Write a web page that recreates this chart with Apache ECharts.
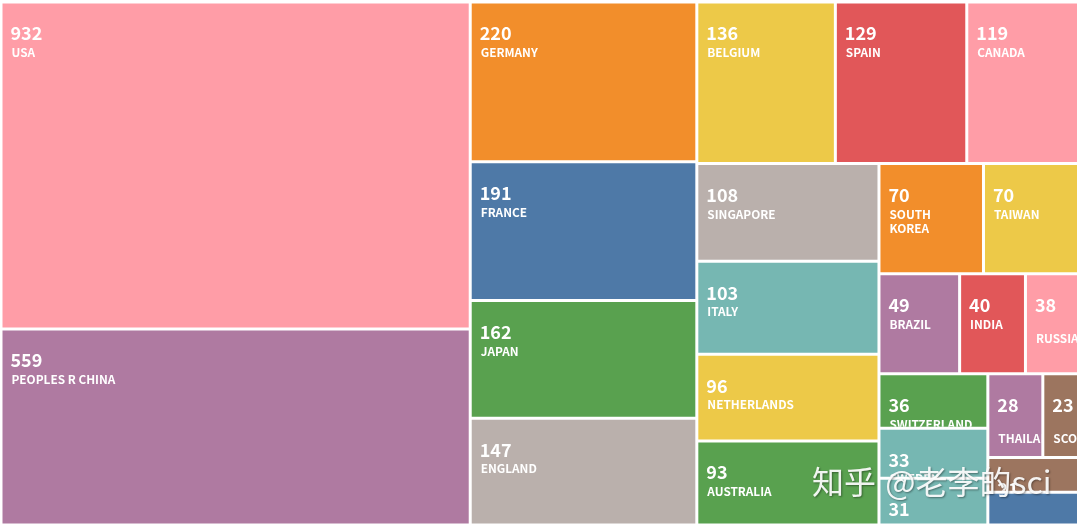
<!DOCTYPE html>
<html>
<head>
<meta charset="utf-8">
<style>
html,body{margin:0;padding:0;background:#fff}
#crop{position:relative;width:1077px;height:524px;overflow:hidden}
#chart{width:1088px;height:527px}
#mark{position:absolute;left:812px;top:456px;font:32px/48px "Noto Sans CJK SC";word-spacing:2px;color:rgba(255,255,255,.92);text-shadow:1px 1px 2px rgba(0,0,0,.4);white-space:pre}
</style>
<script src="https://cdn.jsdelivr.net/npm/echarts@6/dist/echarts.min.js"></script>
</head>
<body>
<div id="crop"><div id="chart"></div></div>
<div id="mark">知乎 @老李的sci</div>
<script>
const names = ['USA','PEOPLES R CHINA','GERMANY','FRANCE','JAPAN','ENGLAND','BELGIUM','SPAIN','CANADA',
  'SINGAPORE','ITALY','NETHERLANDS','AUSTRALIA','SOUTH\nKOREA','TAIWAN','BRAZIL','INDIA','\nRUSSIA',
  'SWITZERLAND','SWEDEN','DENMARK','\nTHAILAND','\nSCOTLAND','WALES','AUSTRIA'];
const counts = [932,559,220,191,162,147,136,129,119,108,103,96,93,70,70,49,40,38,36,33,31,28,23,21,20];
const colors = ['#FF9DA7','#AF7AA1','#F28E2B','#4E79A7','#59A14F','#BAB0AC','#EDC948','#E15759','#FF9DA7',
  '#BAB0AC','#76B7B2','#EDC948','#59A14F','#F28E2B','#EDC948','#AF7AA1','#E15759','#FF9DA7',
  '#59A14F','#76B7B2','#76B7B2','#AF7AA1','#9C755F','#9C755F','#4E79A7'];

const chart = echarts.init(document.getElementById('chart'));
chart.setOption({
  animation: false,
  series: [{
    type: 'treemap',
    left: 1, top: 2, right: 0, bottom: 2,
    roam: false, nodeClick: false,
    breadcrumb: { show: false },
    sort: false,
    squareRatio: 1.618,
    itemStyle: { gapWidth: 0, borderWidth: 0, borderColor: '#fff' },
    label: {
      show: true,
      position: 'insideTopLeft',
      offset: [3, 15],
      overflow: 'none',
      fontFamily: 'Noto Sans CJK SC',
      formatter: p => '{v|' + p.value + '}\n{s|}\n' + p.name.split('\n').map(s => '{n|' + s + '}').join('\n'),
      rich: {
        v: { fontSize: 18, fontWeight: 700, color: '#fff', lineHeight: 20 },
        s: { fontSize: 1, lineHeight: 2 },
        n: { fontSize: 11.8, fontWeight: 700, color: '#fff', lineHeight: 14, padding: [0, 0, 0, 1] }
      }
    },
    data: names.map((n, i) => ({
      name: n, value: counts[i],
      itemStyle: { color: colors[i], borderColor: '#fff', borderWidth: 1.5 }
    }))
  }]
});

// labels in the reference get cut at their own cell, treemap has no option for that
let clipped = false;
chart.on('finished', () => {
  if (clipped) return;
  clipped = true;
  chart.getZr().storage.getRoots().forEach(root => root.traverse && root.traverse(el => {
    const text = el.getTextContent && el.getTextContent();
    if (!text || !text.transform && !text.x && !text.y) return;
    const box = el.getBoundingRect().clone();
    if (el.transform) box.applyTransform(el.transform);
    const t = text.transform || [1, 0, 0, 1, text.x, text.y];
    text.setClipPath(new echarts.graphic.Rect({
      shape: { x: box.x - t[4], y: box.y - t[5], width: box.width, height: box.height }
    }));
  }));
  chart.getZr().refresh();
});
</script>
</body>
</html>
